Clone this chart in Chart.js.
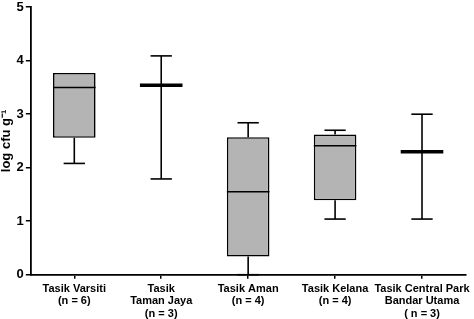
<!DOCTYPE html>
<html>
<head>
<meta charset="utf-8">
<script src="https://cdn.jsdelivr.net/npm/chart.js@4.4.1/dist/chart.umd.min.js"></script>
<style>
  html, body { margin: 0; padding: 0; background: #fff; }
  #wrap { width: 474px; height: 319px; }
</style>
</head>
<body>
<div id="wrap"><canvas id="c" width="474" height="319"></canvas></div>
<script>
const categories = [
  ['Tasik Varsiti', '(n = 6)'],
  ['Tasik', 'Taman Jaya', '(n = 3)'],
  ['Tasik Aman', '(n = 4)'],
  ['Tasik Kelana', '(n = 4)'],
  ['Tasik Central Park', 'Bandar Utama', '( n = 3)']
];
const q1Values = [2.56, null, 0.34, 1.39, null];
const q3Values = [3.77, null, 2.57, 2.62, null];
const medianValues = [3.50, 3.54, 1.55, 2.41, 2.30];
const whiskerLow = [2.08, 1.79, 0.00, 1.04, 1.04];
const whiskerHigh = [3.77, 4.09, 2.84, 2.70, 3.00];
const yTicks = [0, 1, 2, 3, 4, 5];

const FONT = "'Liberation Sans', Arial, sans-serif";
const BAR_PCT = 0.49;

const boxes = q1Values.map((v, i) => (v === null ? null : [v, q3Values[i]]));

const whiskerPlugin = {
  id: 'whiskers',
  afterDatasetsDraw(chart) {
    const ctx = chart.ctx;
    const xs = chart.scales.x, ys = chart.scales.y;
    const step = xs.getPixelForValue(1) - xs.getPixelForValue(0);
    const halfBox = step * BAR_PCT / 2;
    const halfCap = halfBox / 2;
    ctx.save();
    ctx.strokeStyle = '#000';
    ctx.lineCap = 'butt';
    for (let i = 0; i < categories.length; i++) {
      const x = xs.getPixelForValue(i);
      const hasBox = q1Values[i] !== null;
      const lowEnd = hasBox ? q1Values[i] : medianValues[i];
      const highEnd = hasBox ? q3Values[i] : medianValues[i];
      ctx.lineWidth = 1.6;
      ctx.beginPath();
      ctx.moveTo(x, ys.getPixelForValue(whiskerLow[i]));
      ctx.lineTo(x, ys.getPixelForValue(lowEnd));
      ctx.stroke();
      ctx.beginPath();
      ctx.moveTo(x, ys.getPixelForValue(highEnd));
      ctx.lineTo(x, ys.getPixelForValue(whiskerHigh[i]));
      ctx.stroke();
      [whiskerLow[i], whiskerHigh[i]].forEach(v => {
        if (hasBox && (v === q1Values[i] || v === q3Values[i])) return;
        const y = ys.getPixelForValue(v);
        ctx.beginPath();
        ctx.moveTo(x - halfCap, y);
        ctx.lineTo(x + halfCap, y);
        ctx.stroke();
      });
      const ym = ys.getPixelForValue(medianValues[i]);
      ctx.lineWidth = hasBox ? 1.6 : 3.5;
      ctx.beginPath();
      ctx.moveTo(x - halfBox, ym);
      ctx.lineTo(x + halfBox, ym);
      ctx.stroke();
    }
    ctx.restore();
  }
};

new Chart(document.getElementById('c'), {
  type: 'bar',
  data: {
    labels: categories,
    datasets: [{
      data: boxes,
      backgroundColor: '#b4b4b4',
      borderColor: '#000',
      borderWidth: 1.6,
      borderSkipped: false,
      categoryPercentage: 1,
      barPercentage: BAR_PCT
    }]
  },
  options: {
    responsive: false,
    animation: false,
    layout: { padding: { top: 0, right: 4, left: -1, bottom: -5 } },
    plugins: { legend: { display: false }, tooltip: { enabled: false } },
    scales: {
      x: {
        border: { color: '#000', width: 1.8 },
        grid: { drawOnChartArea: false, drawTicks: true, tickLength: 4, color: '#000', lineWidth: 1.5, offset: false },
        ticks: {
          color: '#000',
          font: { family: FONT, size: 11, weight: 'bold', lineHeight: 1.13 },
          maxRotation: 0, autoSkip: false, padding: 4
        }
      },
      y: {
        min: 0, max: 5,
        afterBuildTicks(scale) { scale.ticks = yTicks.map(v => ({ value: v })); },
        border: { color: '#000', width: 1.8 },
        grid: { drawOnChartArea: false, drawTicks: true, tickLength: 5, color: '#000', lineWidth: 1.5 },
        ticks: { color: '#000', font: { family: FONT, size: 13, weight: 'bold', lineHeight: 0.8 }, padding: 2 },
        title: {
          display: true, text: 'log cfu g\u207B\u00B9', color: '#000',
          font: { family: FONT, size: 13, weight: 'bold' }, padding: { top: 0, bottom: 0 }
        }
      }
    }
  },
  plugins: [whiskerPlugin]
});
</script>
</body>
</html>
